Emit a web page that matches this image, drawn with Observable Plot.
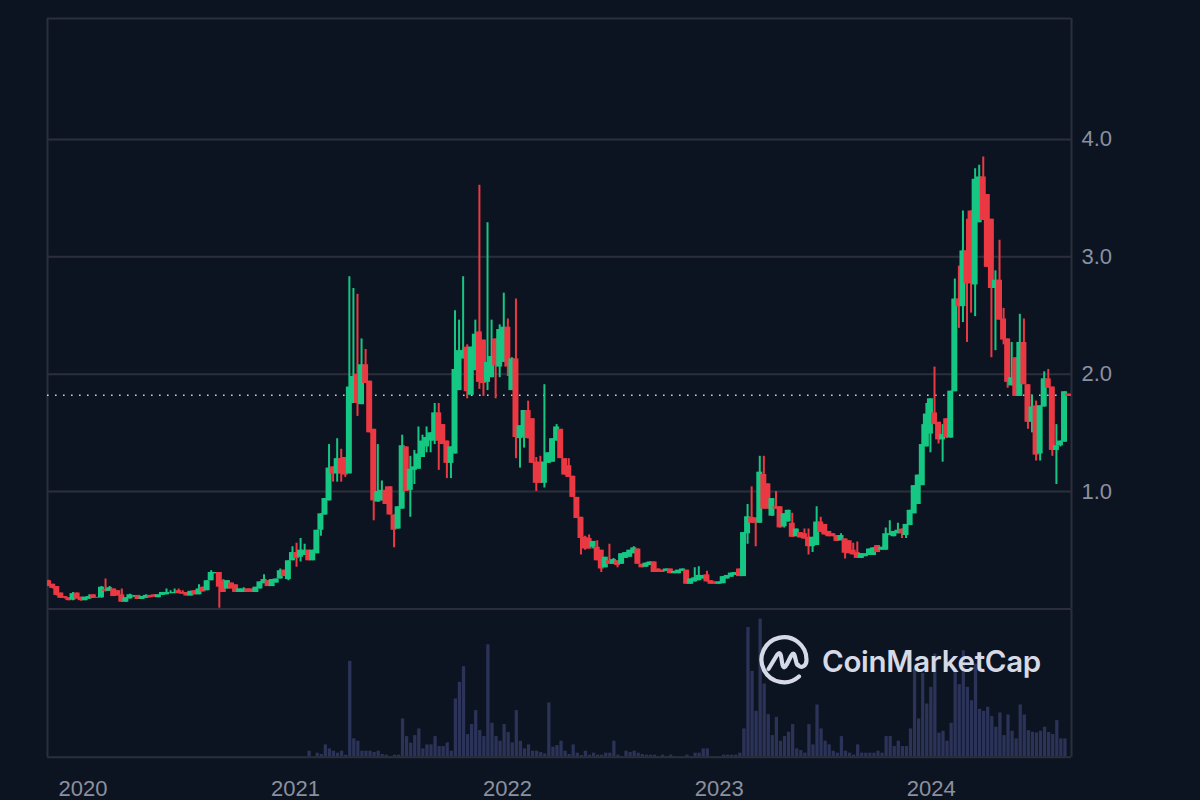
<!DOCTYPE html>
<html>
<head>
<meta charset="utf-8">
<script src="https://cdn.jsdelivr.net/npm/d3@7"></script>
<script src="https://cdn.jsdelivr.net/npm/@observablehq/plot@0.6"></script>
<style>
html,body{margin:0;padding:0;background:#0d1421;width:1200px;height:800px;overflow:hidden}
#wrap{position:relative;width:1200px;height:800px;font-family:"Liberation Sans",Arial,sans-serif}
#wrap svg.plot{display:block}
#logo{position:absolute;left:755px;top:632px;display:flex;align-items:center;pointer-events:none}
#logoText{position:absolute;left:67px;top:11px;font:600 29.5px/36px Inter,"Noto Sans",sans-serif;color:#d6dae6;letter-spacing:-.3px;white-space:nowrap}
</style>
</head>
<body>
<div id="wrap">
<div id="price"></div>
<div id="volume"></div>
<div id="logo">
<svg width="60" height="60" viewBox="0 0 60 60" fill="none" stroke="#d6dae6" stroke-width="4.2" stroke-linecap="round" stroke-linejoin="round">
<path d="M44 44.5A22.5 22.5 0 1 1 51.5 28C51.5 34 46 37 43 33"/>
<path d="M13.5 37L22 23Q25 19 26 24L27.5 33Q29 38 32 32L36 24Q39 19 40 25L41.5 31Q42 33 43 33"/>
</svg>
<div id="logoText">CoinMarketCap</div>
</div>
</div>
<script>
const startDate = "2019-10-30";
const lastPrice = 1.82;
const yearTicks = ["2020-01-01","2021-01-01","2022-01-01","2023-01-01","2024-01-01"];
const priceTicks = [1,2,3,4];

const opens = [
.24,.21,.19,.135,.105,.095,.075,.135,.10,.07,
.085,.12,.095,.095,.165,.15,.17,.155,.12,.057,
.085,.10,.115,.08,.09,.115,.12,.095,.115,.12,
.13,.13,.155,.14,.14,.11,.155,.12,.185,.155,
.24,.30,.31,.24,.17,.22,.205,.14,.14,.17,
.17,.14,.17,.215,.24,.19,.22,.255,.33,.25,
.41,.48,.44,.455,.50,.41,.47,.67,.80,.92,
1.21,1.15,1.28,1.29,1.15,1.75,2.00,1.74,2.08,1.94,
1.53,.91,.92,1.01,1.04,.80,.68,.85,1.38,1.01,
1.18,1.19,1.29,1.38,1.43,1.43,1.67,1.57,1.43,1.24,
1.32,1.86,2.13,2.23,1.82,2.03,2.36,2.29,1.93,1.97,
2.30,2.06,2.10,2.40,1.86,2.13,1.45,1.46,1.69,1.62,
1.25,1.25,1.07,1.24,1.25,1.43,1.53,1.28,1.22,1.13,
.95,.78,.61,.60,.525,.525,.50,.35,.41,.38,
.41,.38,.43,.44,.47,.51,.38,.355,.37,.40,
.34,.33,.32,.34,.30,.30,.32,.33,.21,.23,
.24,.255,.29,.24,.23,.21,.215,.255,.27,.285,
.34,.275,.64,.78,.775,.73,1.145,1.065,.79,.87,
.87,.70,.74,.73,.615,.65,.64,.61,.53,.54,
.74,.72,.66,.64,.625,.58,.596,.58,.50,.48,
.43,.445,.455,.455,.54,.50,.50,.625,.615,.64,
.68,.625,.71,.81,.89,1.05,1.38,1.49,1.67,1.59,
1.44,1.62,1.455,1.85,2.64,2.575,3.05,3.39,2.76,3.29,
3.68,3.53,3.32,2.73,2.80,2.47,2.30,1.90,2.14,1.81,
2.27,1.91,1.59,1.73,1.32,1.72,1.96,1.89,1.35,1.39,
1.42,1.83];

const closes = [
.19,.175,.115,.09,.09,.07,.13,.085,.07,.10,
.105,.09,.09,.185,.15,.18,.105,.11,.057,.095,
.12,.11,.08,.105,.115,.095,.10,.12,.14,.14,
.135,.14,.13,.125,.11,.15,.12,.17,.145,.24,
.31,.31,.185,.14,.24,.17,.14,.17,.17,.14,
.14,.185,.23,.25,.19,.25,.255,.325,.275,.41,
.48,.43,.50,.50,.41,.50,.67,.81,.94,1.20,
1.15,1.28,1.15,1.14,1.89,1.98,1.75,2.08,1.92,1.50,
.92,1.00,1.01,.89,.80,.67,.87,1.39,1.00,1.19,
1.21,1.32,1.43,1.46,1.50,1.67,1.43,1.40,1.24,1.38,
2.04,2.20,2.20,1.85,2.23,2.34,1.93,1.92,2.10,2.15,
2.07,2.38,2.40,2.06,2.13,1.46,1.56,1.69,1.45,1.24,
1.07,1.07,1.25,1.33,1.45,1.55,1.28,1.14,1.12,.95,
.77,.60,.51,.51,.575,.41,.34,.44,.38,.42,
.37,.47,.48,.50,.52,.38,.35,.39,.40,.31,
.31,.31,.34,.30,.32,.33,.34,.21,.255,.265,
.285,.285,.23,.21,.21,.23,.275,.285,.305,.31,
.275,.65,.785,.73,.73,1.165,.85,.85,.94,.85,
.69,.81,.84,.61,.68,.605,.595,.53,.61,.74,
.65,.63,.615,.615,.575,.625,.474,.47,.46,.43,
.47,.47,.51,.52,.48,.525,.64,.64,.66,.67,
.64,.72,.84,1.05,1.14,1.40,1.66,1.79,1.57,1.44,
1.485,1.46,1.855,2.64,2.575,3.05,2.77,2.77,3.66,3.68,
3.31,2.91,2.73,2.80,2.46,2.29,1.93,1.97,1.81,2.27,
1.91,1.59,1.72,1.31,1.73,1.96,1.88,1.35,1.39,1.43,
1.85,1.81];

const highs = [
.245,.21,.19,.135,.105,.095,.14,.135,.10,.10,
.12,.12,.10,.19,.255,.19,.17,.155,.17,.095,
.125,.115,.115,.105,.12,.115,.12,.12,.14,.17,
.155,.17,.17,.155,.14,.15,.155,.205,.185,.24,
.325,.31,.31,.25,.24,.22,.205,.17,.18,.17,
.17,.185,.23,.29,.24,.25,.255,.34,.33,.41,
.53,.56,.60,.55,.50,.50,.67,.81,.94,1.40,
1.21,1.45,1.36,1.29,2.83,2.73,2.68,2.30,2.21,1.94,
1.53,1.40,1.09,1.04,1.04,.80,.87,1.48,1.38,1.30,
1.35,1.55,1.48,1.55,1.50,1.75,1.75,1.57,1.43,1.38,
2.54,2.46,2.83,2.25,2.23,2.46,3.61,2.29,3.29,2.46,
2.30,2.42,2.69,2.47,2.14,2.64,1.56,1.69,1.77,1.62,
1.29,1.30,1.91,1.33,1.45,1.57,1.53,1.28,1.28,1.13,
.95,.78,.62,.63,.575,.58,.50,.44,.55,.43,
.41,.47,.48,.50,.53,.51,.38,.39,.40,.40,
.34,.33,.34,.34,.32,.33,.34,.33,.255,.35,
.36,.285,.32,.24,.23,.23,.275,.285,.305,.31,
.34,.65,.89,1.04,.775,1.30,1.30,1.065,.94,1.00,
.87,.81,.84,.815,.68,.65,.68,.68,.61,.87,
.78,.72,.66,.64,.625,.64,.596,.58,.56,.57,
.47,.47,.51,.52,.54,.525,.69,.75,.66,.73,
.68,.72,.84,1.05,1.14,1.57,1.75,1.79,2.06,1.59,
1.57,1.62,1.855,2.81,2.92,3.39,3.32,3.39,3.75,3.78,
3.85,3.53,3.32,2.88,3.14,2.56,2.30,2.27,2.14,2.51,
2.47,1.91,1.82,1.77,1.73,2.02,2.04,1.89,1.57,1.43,
1.85,1.83];

const lows = [
.19,.17,.11,.09,.085,.07,.07,.085,.065,.07,
.08,.09,.09,.09,.145,.15,.105,.11,.055,.055,
.085,.10,.08,.08,.09,.095,.10,.095,.115,.12,
.13,.13,.13,.125,.11,.11,.12,.12,.145,.155,
.24,.30,.005,.14,.17,.17,.14,.14,.14,.14,
.14,.14,.17,.215,.19,.19,.22,.255,.275,.24,
.41,.355,.40,.455,.41,.41,.47,.62,.80,.92,
1.08,1.08,1.08,1.12,1.15,1.75,1.64,1.74,1.92,1.50,
.75,.91,.92,.89,.80,.52,.68,.85,1.00,.78,
1.06,1.19,1.29,1.33,1.33,1.40,1.18,1.40,1.11,1.11,
1.32,1.86,2.13,1.79,1.82,2.03,1.87,1.81,1.86,1.97,
1.79,1.97,2.10,1.98,1.86,1.28,1.20,1.37,1.45,1.24,
1.00,1.07,1.03,1.24,1.25,1.43,1.28,1.14,1.12,.95,
.77,.46,.50,.51,.51,.41,.31,.35,.38,.38,
.35,.38,.43,.44,.47,.38,.35,.355,.37,.31,
.31,.31,.32,.30,.30,.30,.32,.21,.21,.23,
.24,.255,.23,.21,.21,.21,.215,.255,.27,.285,
.275,.275,.55,.73,.53,.73,.85,.85,.79,.85,
.69,.69,.74,.61,.615,.605,.595,.46,.48,.54,
.65,.63,.615,.615,.575,.58,.426,.47,.46,.43,
.43,.445,.455,.455,.48,.50,.50,.625,.615,.64,
.60,.60,.71,.81,.89,1.05,1.38,1.33,1.57,1.405,
1.25,1.45,1.455,1.85,2.39,2.44,2.27,2.52,2.49,3.29,
3.31,2.91,2.14,2.20,2.46,2.25,1.88,1.90,1.81,1.81,
1.91,1.53,1.50,1.26,1.26,1.72,1.88,1.30,1.06,1.38,
1.42,1.81];

const volumes = [
0,0,0,0,0,0,0,0,0,0,
0,0,0,0,0,0,0,0,0,0,
0,0,0,0,0,0,0,0,0,0,
0,0,0,0,0,0,0,0,0,0,
0,0,0,0,0,0,0,0,0,0,
0,0,0,0,0,0,0,0,0,0,
0,0,0,0,18,0,12,8,37,25,
18,12,18,6,288,55,48,18,18,18,
14,18,8,6,1,6,6,115,62,42,
65,85,25,37,37,62,32,32,43,18,
175,225,272,68,98,140,80,62,338,102,
62,48,98,74,43,140,48,25,37,18,
18,14,10,163,30,35,48,18,8,37,
12,5,18,6,12,6,6,12,12,48,
6,2,18,14,18,12,8,6,6,6,
2,6,2,6,2,1,1,6,1,12,
12,25,25,1,1,1,6,6,6,6,
12,85,390,258,138,415,220,128,65,120,
48,62,75,98,25,20,12,98,37,157,
85,48,37,18,12,62,18,12,6,37,
12,12,12,12,18,12,62,62,32,48,
32,32,85,265,115,252,160,210,310,72,
78,48,102,265,218,320,210,170,280,144,
138,150,122,90,133,65,127,78,55,157,
127,80,75,73,78,90,74,68,110,55,
55,0];

const bg = "#0d1421", grid = "#2a2f3b", tickColor = "#8b90a0";
const green = "#16c784", red = "#ea3943", volColor = "#2b3358";
const dayMs = 86400000;
const t0 = Date.parse(startDate);
const candleShift = -1.5 * dayMs;
const candles = opens.map((o, i) => ({
  x1: new Date(t0 + i * 7 * dayMs),
  x2: new Date(t0 + (i + 1) * 7 * dayMs),
  cx1: new Date(t0 + i * 7 * dayMs + candleShift),
  cx2: new Date(t0 + (i + 1) * 7 * dayMs + candleShift),
  xm: new Date(t0 + (i + 0.5) * 7 * dayMs + candleShift),
  open: o, close: closes[i], high: highs[i], low: lows[i], volume: volumes[i],
  up: closes[i] >= o
}));
const xDomain = [new Date(t0), new Date(t0 + opens.length * 7 * dayMs)];
const fill = d => d.up ? green : red;
const baseStyle = {background: "transparent", fontFamily: '"Liberation Sans",Arial,sans-serif', fontSize: "22px", overflow: "visible"};

const pricePlot = Plot.plot({
  width: 1200, height: 609,
  marginLeft: 47, marginRight: 129, marginTop: 18, marginBottom: 0.6,
  style: baseStyle,
  x: {type: "utc", domain: xDomain, axis: null},
  y: {domain: [0, 5.03], axis: null},
  marks: [
    Plot.ruleY(priceTicks, {stroke: grid, strokeWidth: 2}),
    Plot.ruleY([0, 5.03], {stroke: grid, strokeWidth: 2}),
    Plot.ruleX(xDomain, {stroke: grid, strokeWidth: 2}),
    Plot.ruleY([lastPrice], {stroke: "#c8ccd6", strokeWidth: 1.6, strokeDasharray: "1.6 6.4"}),
    Plot.ruleX(candles, {x: "xm", y1: "low", y2: "high", stroke: fill, strokeWidth: 2, clip: true}),
    Plot.rect(candles, {x1: "cx1", x2: "cx2", y1: "open", y2: "close", fill, insetLeft: -0.95, insetRight: -0.95, clip: true}),
    Plot.axisY({anchor: "right", ticks: priceTicks, tickSize: 0, tickPadding: 10, tickFormat: d => d.toFixed(1), fill: tickColor, label: null})
  ]
});
document.getElementById("price").appendChild(pricePlot);

const volumePlot = Plot.plot({
  width: 1200, height: 191,
  marginLeft: 47, marginRight: 129, marginTop: 0, marginBottom: 43.3,
  style: baseStyle,
  x: {type: "utc", domain: xDomain, axis: null},
  y: {domain: [0, 444], axis: null},
  marks: [
    Plot.ruleX(xDomain, {stroke: grid, strokeWidth: 2}),
    Plot.rect(candles.filter(d => d.volume > 0), {x1: "x1", x2: "x2", y1: 0, y2: "volume", fill: volColor, insetLeft: 0.4, insetRight: 0.4}),
    Plot.ruleY([0], {stroke: grid, strokeWidth: 2}),
    Plot.axisX({anchor: "bottom", ticks: yearTicks.map(d => new Date(d)), tickSize: 0, tickPadding: 23, dx: -1, tickFormat: d => String(d.getUTCFullYear()), fill: tickColor, label: null})
  ]
});
document.getElementById("volume").appendChild(volumePlot);
</script>
</body>
</html>
